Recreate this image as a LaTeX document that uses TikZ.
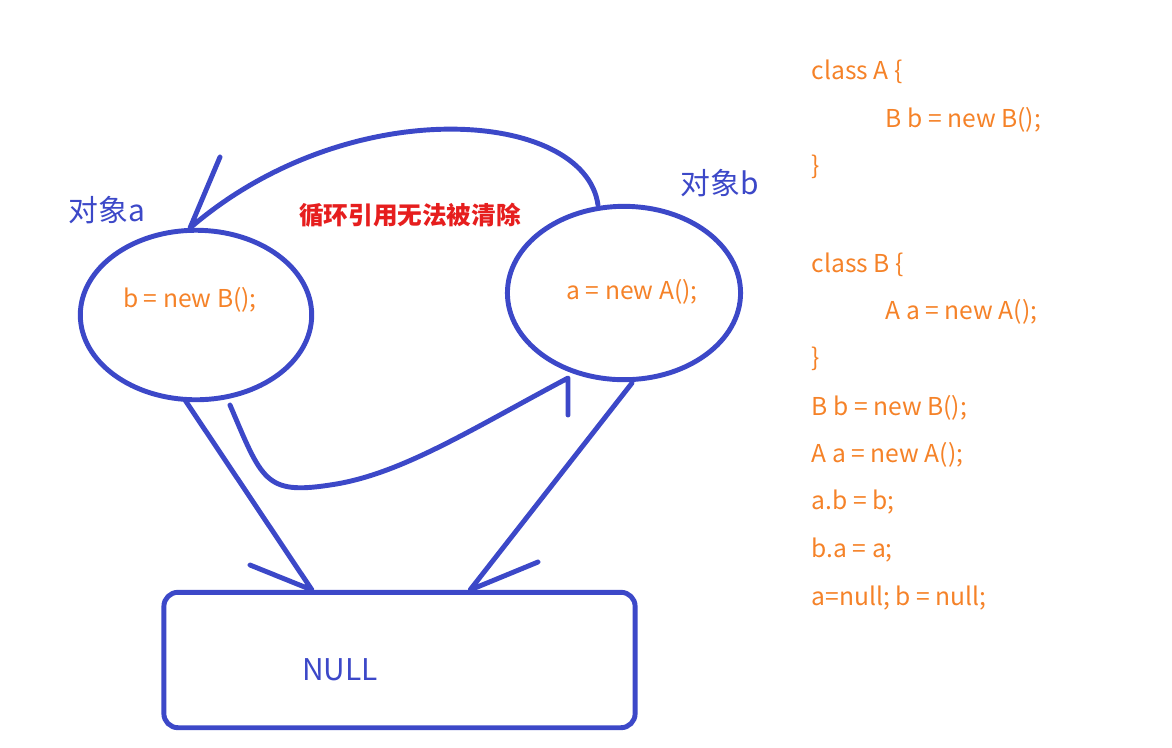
\documentclass[tikz,border=0pt]{standalone}
\usepackage{fontspec}
\usetikzlibrary{shapes.geometric}
\setmainfont{Noto Sans CJK SC}
\definecolor{bl}{RGB}{60,72,200}
\definecolor{og}{RGB}{245,130,40}
\definecolor{rd}{RGB}{230,30,30}
\begin{document}
\begin{tikzpicture}[x=0.01cm,y=-0.01cm,
 ln/.style={draw=bl,line width=1.4pt,line cap=round,line join=round},
 code/.style={text=og,font=\fontsize{7}{8}\selectfont,anchor=west,inner sep=0},
 lbl/.style={text=bl,font=\fontsize{8.5}{10}\selectfont,inner sep=0}]
\useasboundingbox (0,0) rectangle (1172,747);
\node[ln,ellipse,minimum width=65.8pt,minimum height=48.2pt,inner sep=0] (ea) at (196,315) {};
\node[ln,ellipse,minimum width=66.3pt,minimum height=49.3pt,inner sep=0] (eb) at (624,293) {};
\node[code,anchor=center] (ta) at (190,300) {b = new B();};
\node[code,anchor=center] (tb) at (632,292) {a = new A();};
\node[ln,rounded corners=4pt,minimum width=134pt,minimum height=38.5pt] (nb) at (399.5,660) {};
\node[text=bl,font=\fontsize{8.5}{10}\selectfont] (nl) at (340,670) {NULL};
\node[lbl] (la) at (107,210) {对象a};
\node[lbl] (lb) at (720,183) {对象b};
\node[text=rd,font=\bfseries\fontsize{7}{8}\selectfont,inner sep=0] (cy) at (410,215) {循环引用无法被清除};
\coordinate (a1) at (185,400); \coordinate (n1) at (312,590);
\draw[ln] (a1) -- (n1) -- (250,565);
\coordinate (b1) at (632,383); \coordinate (n2) at (470,590);
\draw[ln] (b1) -- (n2) -- (538,562);
\coordinate (a2) at (230,405); \coordinate (b2) at (568,378);
\draw[ln] (a2) .. controls (262,480) and (265,495) .. (330,485) .. controls (400,475) and (470,430) .. (b2) -- (568,415);
\coordinate (b3) at (598,205); \coordinate (a3) at (190,228);
\draw[ln] (b3) .. controls (585,110) and (350,90) .. (a3) -- (220,157);
\foreach \t/\x/\y in {{class A \{}/811/72,{B b = new B();}/885/120,{\}}/811/167,{class B \{}/811/265,{A a = new A();}/885/312,{\}}/811/359,{B b = new B();}/811/408,{A a = new A();}/811/455,{a.b = b;}/811/502,{b.a = a;}/811/550,{a=null; b = null;}/811/598}
  \node[code] at (\x,\y) {\t};
\end{tikzpicture}
\end{document}
